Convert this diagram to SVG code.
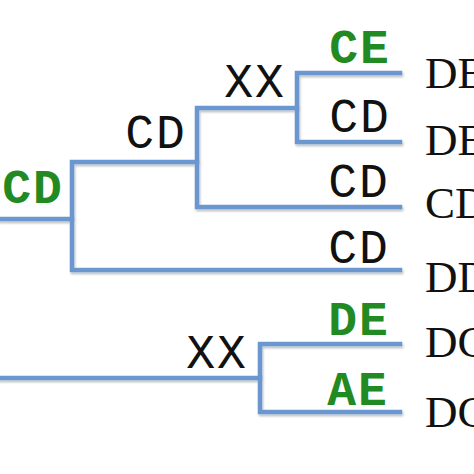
<svg xmlns="http://www.w3.org/2000/svg" width="474" height="474" viewBox="0 0 474 474">
<defs>
<filter id="sh" x="-10%" y="-10%" width="120%" height="130%">
<feDropShadow dx="1" dy="2" stdDeviation="1.2" flood-color="#000" flood-opacity="0.25"/>
</filter>
</defs>
<style>
.e{fill:none;stroke:#6b97cf;stroke-width:4.5;stroke-linecap:square;stroke-linejoin:miter}
.m{font-family:"Courier New","Liberation Mono",monospace;font-size:48px;letter-spacing:2px;fill:#111;text-anchor:middle}
.g{font-family:"Courier New","Liberation Mono",monospace;font-size:48px;letter-spacing:2px;font-weight:bold;fill:#228a22;text-anchor:middle}
.r{font-family:"Liberation Serif","Times New Roman",serif;font-size:45px;fill:#111}
</style>
<rect width="474" height="474" fill="#fff"/>
<g id="connectors" filter="url(#sh)">
<path class="e" d="M0 219H72"/>
<path class="e" d="M400 270H72V162H197"/>
<path class="e" d="M400 207H197V108H297"/>
<path class="e" d="M400 73H297V142H400"/>
<path class="e" d="M0 378H260"/>
<path class="e" d="M400 344H260V412H400"/>
</g>
<g id="root1"><text class="g" x="33" y="203">CD</text></g>
<g id="n1"><text class="m" x="156" y="148">CD</text></g>
<g id="n2"><text class="m" x="255" y="97">XX</text></g>
<g id="leaf1"><text class="g" x="360" y="63">CE</text><text class="r" x="425" y="88">DE</text></g>
<g id="leaf2"><text class="m" x="360" y="132">CD</text><text class="r" x="425" y="155">DE</text></g>
<g id="leaf3"><text class="m" x="359" y="197">CD</text><text class="r" x="425" y="218">CD</text></g>
<g id="leaf4"><text class="m" x="359" y="263">CD</text><text class="r" x="425" y="292">DD</text></g>
<g id="n3"><text class="m" x="217" y="368">XX</text></g>
<g id="leaf5"><text class="g" x="359" y="335">DE</text><text class="r" x="425" y="357">DC</text></g>
<g id="leaf6"><text class="g" x="358" y="405">AE</text><text class="r" x="425" y="427">DC</text></g>
</svg>
